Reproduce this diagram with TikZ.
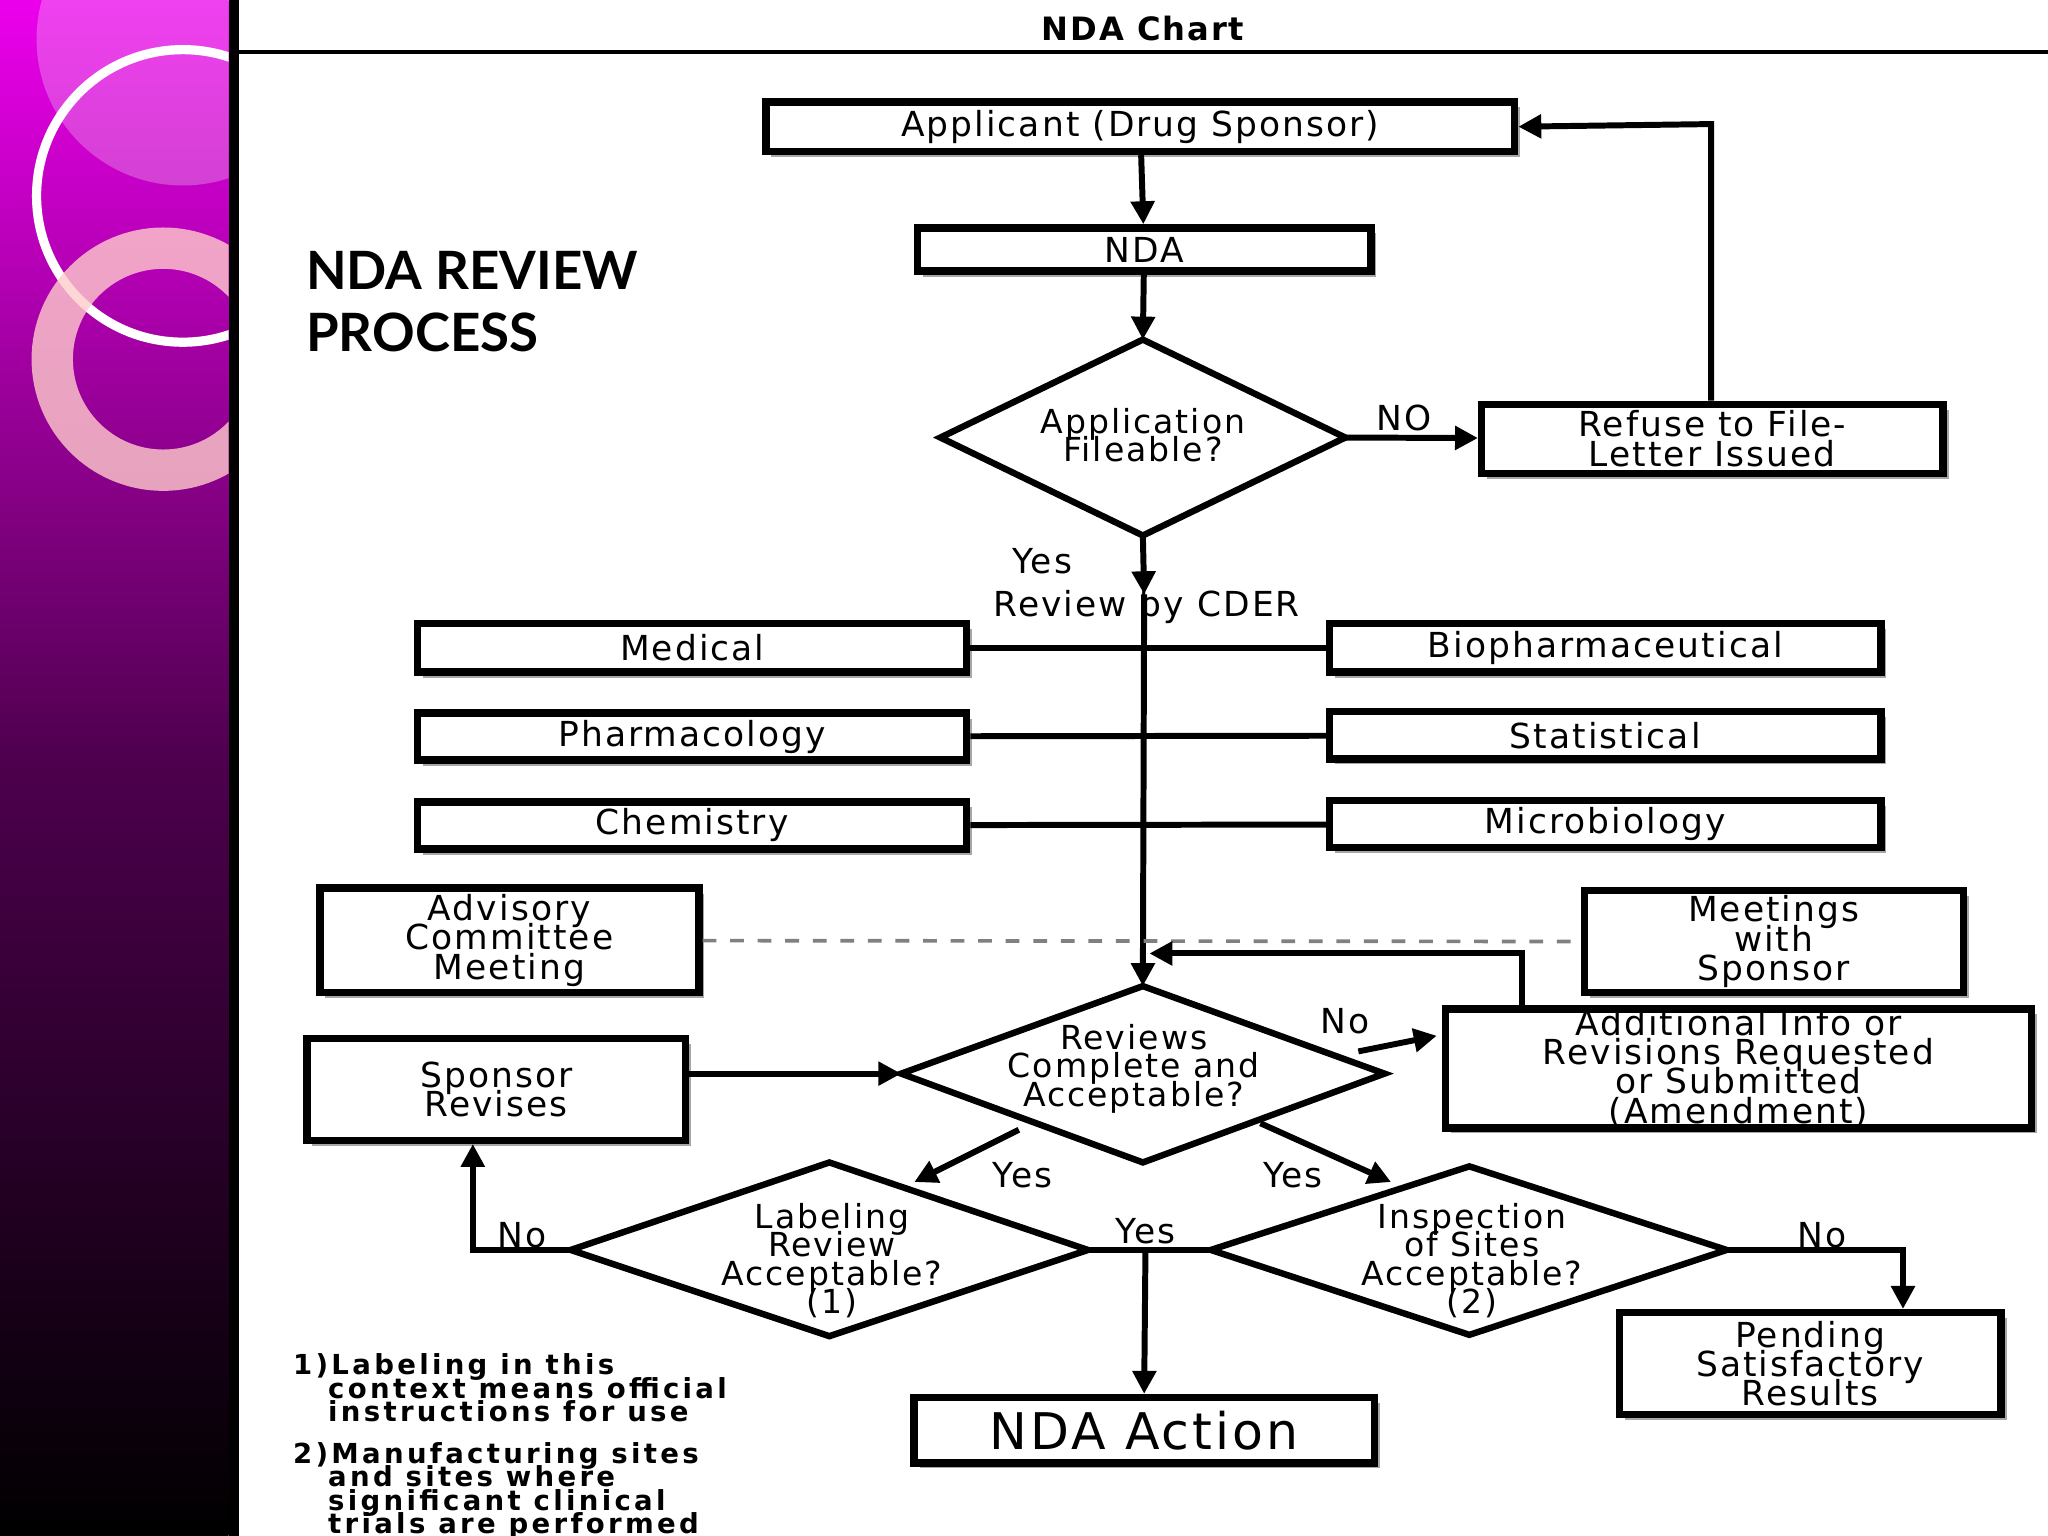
\documentclass[tikz,border=0pt]{standalone}
\usepackage{fontspec}
\setmainfont{DejaVu Sans}[LetterSpace=6]
\newfontfamily\titlefont{Lato}
\newfontfamily\fnfont{DejaVu Sans}[LetterSpace=12]
\newcommand\tightls{\lineskiplimit=-20pt\relax}
\usetikzlibrary{shapes.geometric,shadows,arrows.meta}
\begin{document}
\begin{tikzpicture}[x=0.01cm,y=-0.01cm,
  bx/.style={draw,line width=1.6pt,fill=white,inner sep=0pt,align=center,font=\fontsize{7.5}{6.4}\selectfont\tightls,
    drop shadow={shadow xshift=1.2pt,shadow yshift=-1.2pt,fill=gray!70,opacity=1}},
  dmt/.style={inner sep=0pt,align=center,font=\fontsize{7.2}{6.2}\selectfont\tightls},
  dml/.style={line width=1.4pt,fill=white},
  ln/.style={line width=1.3pt},
  ar/.style={line width=1.3pt,-{Triangle[length=5pt,width=5pt]}},
  lb/.style={font=\fontsize{7.5}{7.5}\selectfont}]
\useasboundingbox (0,0) rectangle (1568,1176);
% sidebar
\shade[top color=magenta!85!violet,bottom color=black,middle color=violet!60!black] (0,0) rectangle (175,1176);
\fill[black] (175,0) rectangle (183,1176);
\begin{scope}
\clip (0,0) rectangle (175,1176);
\fill[white,opacity=0.25] (140,30) circle (112);
\draw[white,line width=2pt] (140,150) circle (112);
\draw[pink!80!white,opacity=0.8,line width=9pt] (125,275) circle (85);
\end{scope}
\node[font=\fontsize{7}{7}\selectfont\bfseries] (title) at (875,22) {NDA Chart};
\draw[line width=0.8pt] (183,40) -- (1568,40);
\node[anchor=north west,align=left,font=\titlefont\bfseries\fontsize{11.5}{13.5}\selectfont] (side) at (222,180) {NDA REVIEW\\PROCESS};
% diamonds (corners as named coordinates)
\coordinate (filN) at (875,260); \coordinate (filS) at (875,410); \coordinate (filW) at (720,335); \coordinate (filE) at (1030,335);
\coordinate (revN) at (875,755); \coordinate (revS) at (875,890); \coordinate (revW) at (690,822); \coordinate (revE) at (1060,822);
\coordinate (labN) at (635,890); \coordinate (labS) at (635,1023); \coordinate (labW) at (437,957); \coordinate (labE) at (833,957);
\coordinate (insN) at (1125,893); \coordinate (insS) at (1125,1022); \coordinate (insW) at (927,957); \coordinate (insE) at (1322,957);
\draw[dml] (filN) -- (filE) -- (filS) -- (filW) -- cycle;
\draw[dml] (revN) -- (revE) -- (revS) -- (revW) -- cycle;
\draw[dml] (labN) -- (labE) -- (labS) -- (labW) -- cycle;
\draw[dml] (insN) -- (insE) -- (insS) -- (insW) -- cycle;
\node[dmt] (fil) at (875,333) {Application\\Fileable?};
\node[dmt] (rev) at (868,818) {Reviews\\Complete and\\Acceptable?};
\node[dmt] (lab) at (637,965) {Labeling\\Review\\Acceptable?\\(1)};
\node[dmt] (ins) at (1127,965) {Inspection\\of Sites\\Acceptable?\\(2)};
% boxes
\node[bx,minimum width=5.73cm,minimum height=0.38cm] (app) at (873,97) {Applicant (Drug Sponsor)};
\node[bx,minimum width=3.47cm,minimum height=0.33cm] (nda) at (876,191) {NDA};
\node[bx,minimum width=3.53cm,minimum height=0.53cm] (ref) at (1311,336) {Refuse to File-\\Letter Issued};
\node[bx,minimum width=4.2cm,minimum height=0.37cm] (med) at (530,496) {Medical};
\node[bx,minimum width=4.22cm,minimum height=0.37cm] (bio) at (1229,496) {Biopharmaceutical};
\node[bx,minimum width=4.2cm,minimum height=0.36cm] (pha) at (530,564) {Pharmacology};
\node[bx,minimum width=4.22cm,minimum height=0.36cm] (sta) at (1229,563) {Statistical};
\node[bx,minimum width=4.2cm,minimum height=0.36cm] (che) at (530,632) {Chemistry};
\node[bx,minimum width=4.22cm,minimum height=0.36cm] (mic) at (1229,631) {Microbiology};
\node[bx,minimum width=2.9cm,minimum height=0.8cm] (adv) at (390,720) {Advisory\\Committee\\Meeting};
\node[bx,minimum width=2.9cm,minimum height=0.78cm] (mee) at (1358,721) {Meetings\\with\\Sponsor};
\node[bx,minimum width=4.48cm,minimum height=0.87cm] (add) at (1331,818) {Additional Info or\\Revisions Requested\\or Submitted\\(Amendment)};
\node[bx,minimum width=2.9cm,minimum height=0.78cm] (spo) at (380,834) {Sponsor\\Revises};
\node[bx,minimum width=2.92cm,minimum height=0.78cm] (pen) at (1386,1044) {Pending\\Satisfactory\\Results};
\node[bx,minimum width=3.52cm,minimum height=0.5cm,font=\fontsize{11}{11}\selectfont] (act) at (876,1095) {NDA Action};
% labels
\node[lb] (lno1) at (1075,320) {NO};
\node[lb] (lyes1) at (798,430) {Yes};
\node[lb] (lcder) at (878,465) {Review by CDER};
\node[lb] (lno2) at (1030,782) {No};
\node[lb] (lyes2) at (783,900) {Yes};
\node[lb] (lyes3) at (990,900) {Yes};
\node[lb] (lno3) at (400,946) {No};
\node[lb] (lyes4) at (877,943) {Yes};
\node[lb] (lno4) at (1395,946) {No};
\node[anchor=north west,align=left,font=\fnfont\fontsize{6}{5.1}\selectfont\bfseries\tightls] (fn) at (212,1024)
 {1)Labeling in this\\\phantom{1)}context means official\\\phantom{1)}instructions for use\\[4pt]2)Manufacturing sites\\\phantom{2)}and sites where\\\phantom{2)}significant clinical\\\phantom{2)}trials are performed};
% connectors
\coordinate (c1) at (1310,95);
\coordinate (c2) at (876,455);
\coordinate (c3) at (1165,730);
\coordinate (c4) at (880,730);
\coordinate (c5) at (362,957);
\coordinate (c6) at (877,957);
\coordinate (c7) at (1457,957);
\draw[ar] (app) -- (nda);
\draw[ar] (nda) -- (filN);
\draw[ar] (filE) -- (ref);
\draw[ar] (ref.north -| c1) -- (c1) -- (app.east);
\draw[ar] (filS) -- (c2);
\draw[ar] (c2) -- (revN);
\draw[ln] (med) -- (bio); \draw[ln] (pha) -- (sta); \draw[ln] (che) -- (mic);
\draw[gray,dashed,line width=0.8pt] (adv) -- (mee);
\draw[ar] (add.north -| c3) -- (c3) -- (c4);
\draw[ar] (1040,805) -- (1100,793);
\draw[ar] (spo.east |- revW) -- (revW);
\draw[ar] (780,865) -- (700,905);
\draw[ar] (965,860) -- (1065,905);
\draw[ar] (labW) -- (c5) -- (spo.south -| c5);
\draw[ln] (labE) -- (insW);
\draw[ar] (c6) -- (act.north);
\draw[ar] (insE) -- (c7) -- (pen.north -| c7);
\end{tikzpicture}
\end{document}
